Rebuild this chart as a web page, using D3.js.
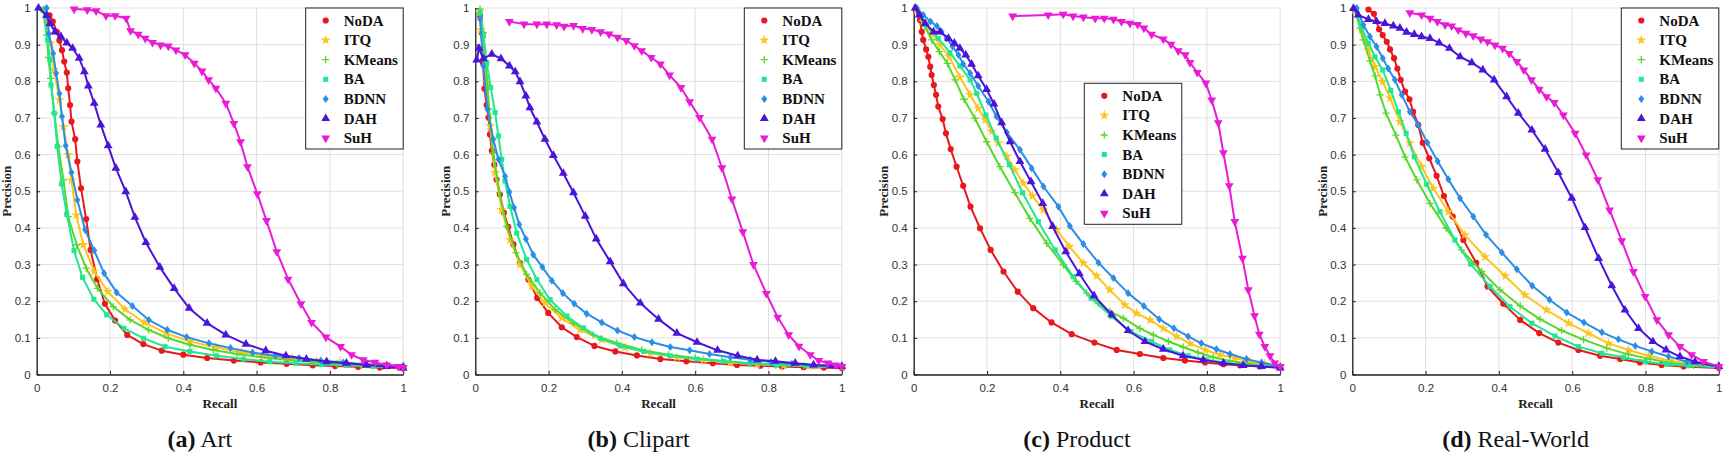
<!DOCTYPE html>
<html>
<head>
<meta charset="utf-8">
<script src="https://cdn.jsdelivr.net/npm/d3@7"></script>
<style>
  html, body { margin: 0; padding: 0; background: #fff; }
  svg { display: block; }
</style>
</head>
<body>
<svg id="chart" width="1725" height="452"></svg>
<script>
// ---------- tick labels ----------
const xTicks = [0, 0.2, 0.4, 0.6, 0.8, 1];
const xTickLabels = ["0", "0.2", "0.4", "0.6", "0.8", "1"];
const yTicks = [0, 0.1, 0.2, 0.3, 0.4, 0.5, 0.6, 0.7, 0.8, 0.9, 1];
const yTickLabels = ["0", "0.1", "0.2", "0.3", "0.4", "0.5", "0.6", "0.7", "0.8", "0.9", "1"];

const methods = ["NoDA", "ITQ", "KMeans", "BA", "BDNN", "DAH", "SuH"];
const panels = ["Art", "Clipart", "Product", "Real-World"];
const panelLetters = ["(a)", "(b)", "(c)", "(d)"];

// ---------- data: [recall, precision] ----------
// (a) Art
const artNoDA = [[0.02,0.995],[0.035,0.98],[0.044,0.963],[0.055,0.935],[0.062,0.911],[0.069,0.885],[0.075,0.854],[0.082,0.824],[0.086,0.781],[0.091,0.735],[0.095,0.69],[0.105,0.642],[0.111,0.581],[0.121,0.508],[0.135,0.424],[0.147,0.34],[0.165,0.26],[0.186,0.193],[0.214,0.147],[0.247,0.108],[0.291,0.083],[0.341,0.065],[0.4,0.054],[0.465,0.045],[0.538,0.038],[0.611,0.033],[0.682,0.029],[0.753,0.025],[0.814,0.023],[0.877,0.021],[0.936,0.019],[1,0.017]];
const artITQ = [[0.018,0.995],[0.029,0.958],[0.038,0.904],[0.047,0.831],[0.062,0.749],[0.073,0.676],[0.086,0.6],[0.095,0.53],[0.108,0.435],[0.127,0.354],[0.157,0.281],[0.194,0.226],[0.241,0.178],[0.293,0.142],[0.353,0.113],[0.418,0.09],[0.489,0.074],[0.559,0.06],[0.627,0.051],[0.698,0.044],[0.764,0.037],[0.827,0.033],[0.891,0.028],[0.955,0.025],[1,0.022]];
const artKMeans = [[0.018,0.995],[0.027,0.926],[0.032,0.865],[0.038,0.808],[0.048,0.713],[0.059,0.622],[0.073,0.531],[0.086,0.431],[0.109,0.354],[0.135,0.29],[0.166,0.235],[0.209,0.185],[0.255,0.149],[0.305,0.122],[0.359,0.099],[0.418,0.081],[0.482,0.067],[0.547,0.056],[0.614,0.047],[0.682,0.04],[0.75,0.035],[0.818,0.029],[0.886,0.025],[0.945,0.022],[1,0.019]];
const artBA = [[0.018,0.995],[0.03,0.913],[0.036,0.858],[0.039,0.79],[0.048,0.713],[0.056,0.622],[0.068,0.52],[0.082,0.438],[0.102,0.338],[0.125,0.265],[0.156,0.205],[0.191,0.163],[0.238,0.126],[0.291,0.099],[0.35,0.076],[0.418,0.063],[0.491,0.051],[0.564,0.042],[0.636,0.035],[0.707,0.031],[0.777,0.027],[0.845,0.025],[0.918,0.022],[1,0.019]];
const artBDNN = [[0.027,1.0],[0.033,0.93],[0.045,0.876],[0.053,0.822],[0.062,0.767],[0.069,0.704],[0.079,0.624],[0.095,0.551],[0.111,0.476],[0.132,0.395],[0.157,0.338],[0.184,0.276],[0.218,0.224],[0.261,0.187],[0.306,0.149],[0.356,0.122],[0.409,0.102],[0.47,0.085],[0.529,0.072],[0.589,0.06],[0.651,0.051],[0.716,0.045],[0.775,0.038],[0.836,0.033],[0.895,0.028],[0.955,0.026],[1,0.024]];
const artDAH = [[0.005,1.0],[0.027,0.98],[0.036,0.958],[0.05,0.935],[0.066,0.922],[0.082,0.905],[0.098,0.89],[0.116,0.863],[0.13,0.826],[0.141,0.787],[0.157,0.74],[0.175,0.681],[0.195,0.624],[0.216,0.563],[0.243,0.499],[0.268,0.429],[0.298,0.36],[0.336,0.293],[0.375,0.235],[0.416,0.181],[0.465,0.14],[0.516,0.108],[0.571,0.083],[0.625,0.065],[0.68,0.051],[0.736,0.042],[0.791,0.035],[0.845,0.031],[0.9,0.026],[0.955,0.022],[1,0.018]];
const artSuH = [[0.102,0.997],[0.138,0.995],[0.162,0.992],[0.189,0.979],[0.214,0.979],[0.244,0.972],[0.256,0.938],[0.277,0.928],[0.296,0.917],[0.316,0.906],[0.338,0.899],[0.359,0.896],[0.38,0.885],[0.405,0.872],[0.43,0.849],[0.451,0.828],[0.469,0.804],[0.489,0.781],[0.516,0.74],[0.538,0.685],[0.556,0.635],[0.575,0.567],[0.602,0.493],[0.627,0.42],[0.655,0.335],[0.686,0.26],[0.721,0.193],[0.75,0.142],[0.789,0.102],[0.829,0.076],[0.859,0.054],[0.891,0.04],[0.923,0.033],[0.955,0.026],[0.986,0.022],[1,0.019]];

// (b) Clipart
const clipNoDA = [[0.013,0.979],[0.017,0.933],[0.021,0.85],[0.025,0.78],[0.031,0.735],[0.036,0.701],[0.04,0.655],[0.045,0.61],[0.052,0.572],[0.058,0.532],[0.067,0.491],[0.078,0.441],[0.09,0.403],[0.104,0.355],[0.122,0.304],[0.145,0.259],[0.169,0.209],[0.199,0.168],[0.236,0.129],[0.277,0.102],[0.325,0.078],[0.382,0.063],[0.441,0.052],[0.505,0.042],[0.576,0.036],[0.648,0.031],[0.714,0.026],[0.778,0.024],[0.837,0.022],[0.896,0.02],[0.951,0.019],[1,0.017]];
const clipITQ = [[0.011,0.988],[0.016,0.94],[0.022,0.879],[0.031,0.797],[0.04,0.678],[0.054,0.551],[0.072,0.45],[0.095,0.368],[0.122,0.3],[0.154,0.241],[0.19,0.195],[0.236,0.154],[0.286,0.122],[0.345,0.095],[0.409,0.074],[0.477,0.058],[0.55,0.047],[0.623,0.04],[0.696,0.033],[0.769,0.028],[0.842,0.025],[0.923,0.022],[1,0.02]];
const clipKMeans = [[0.013,0.997],[0.022,0.933],[0.029,0.842],[0.038,0.724],[0.049,0.605],[0.066,0.496],[0.086,0.405],[0.111,0.332],[0.14,0.273],[0.177,0.222],[0.218,0.177],[0.268,0.14],[0.322,0.108],[0.386,0.086],[0.454,0.067],[0.527,0.054],[0.6,0.045],[0.673,0.037],[0.746,0.031],[0.819,0.026],[0.896,0.024],[1,0.02]];
const clipBA = [[0.013,0.988],[0.022,0.924],[0.031,0.851],[0.042,0.783],[0.054,0.715],[0.063,0.651],[0.072,0.587],[0.081,0.528],[0.095,0.459],[0.113,0.386],[0.14,0.314],[0.168,0.259],[0.204,0.204],[0.25,0.159],[0.295,0.127],[0.341,0.099],[0.395,0.078],[0.459,0.063],[0.532,0.051],[0.605,0.042],[0.678,0.036],[0.75,0.031],[0.823,0.026],[0.905,0.024],[1,0.02]];
const clipBDNN = [[0.013,0.97],[0.022,0.842],[0.033,0.724],[0.049,0.642],[0.063,0.587],[0.081,0.541],[0.093,0.498],[0.106,0.455],[0.12,0.409],[0.138,0.37],[0.158,0.327],[0.183,0.293],[0.209,0.256],[0.239,0.222],[0.27,0.193],[0.304,0.166],[0.345,0.142],[0.388,0.12],[0.434,0.102],[0.482,0.088],[0.532,0.075],[0.585,0.066],[0.639,0.056],[0.696,0.047],[0.75,0.04],[0.807,0.034],[0.864,0.029],[0.923,0.025],[1,0.022]];
const clipDAH = [[0.004,0.858],[0.01,0.89],[0.022,0.862],[0.045,0.874],[0.07,0.862],[0.093,0.842],[0.109,0.826],[0.122,0.799],[0.138,0.76],[0.149,0.728],[0.168,0.689],[0.19,0.642],[0.213,0.598],[0.24,0.549],[0.268,0.496],[0.3,0.432],[0.33,0.37],[0.368,0.308],[0.404,0.248],[0.45,0.195],[0.5,0.151],[0.55,0.113],[0.605,0.088],[0.661,0.066],[0.716,0.051],[0.769,0.04],[0.819,0.036],[0.873,0.031],[0.923,0.026],[0.969,0.024],[1,0.022]];
const clipSuH = [[0.093,0.963],[0.133,0.956],[0.168,0.956],[0.195,0.956],[0.222,0.954],[0.242,0.95],[0.268,0.952],[0.293,0.944],[0.318,0.941],[0.342,0.935],[0.365,0.929],[0.388,0.92],[0.412,0.911],[0.434,0.897],[0.454,0.883],[0.48,0.865],[0.505,0.847],[0.53,0.817],[0.561,0.783],[0.585,0.744],[0.612,0.701],[0.646,0.642],[0.673,0.564],[0.7,0.479],[0.73,0.389],[0.759,0.3],[0.794,0.221],[0.825,0.156],[0.855,0.108],[0.883,0.077],[0.914,0.054],[0.937,0.038],[0.962,0.031],[0.983,0.026],[1,0.022]];

// (c) Product
const prodNoDA = [[0.005,0.995],[0.017,0.967],[0.022,0.935],[0.026,0.913],[0.034,0.887],[0.04,0.867],[0.045,0.84],[0.049,0.817],[0.055,0.79],[0.061,0.763],[0.067,0.731],[0.079,0.697],[0.088,0.658],[0.101,0.615],[0.117,0.567],[0.135,0.515],[0.155,0.458],[0.181,0.399],[0.21,0.34],[0.245,0.281],[0.284,0.226],[0.326,0.181],[0.376,0.142],[0.431,0.11],[0.493,0.087],[0.554,0.067],[0.617,0.056],[0.681,0.045],[0.74,0.038],[0.795,0.033],[0.845,0.028],[0.89,0.025],[0.945,0.022],[1,0.019]];
const prodITQ = [[0.008,0.995],[0.026,0.963],[0.049,0.931],[0.072,0.899],[0.097,0.867],[0.126,0.811],[0.154,0.763],[0.176,0.726],[0.195,0.695],[0.213,0.663],[0.231,0.631],[0.254,0.595],[0.276,0.558],[0.299,0.522],[0.324,0.487],[0.354,0.449],[0.39,0.395],[0.425,0.349],[0.463,0.304],[0.499,0.269],[0.535,0.231],[0.576,0.19],[0.608,0.167],[0.645,0.149],[0.681,0.126],[0.717,0.104],[0.754,0.085],[0.795,0.067],[0.835,0.054],[0.876,0.045],[0.917,0.035],[0.958,0.029],[1,0.022]];
const prodKMeans = [[0.008,0.995],[0.031,0.949],[0.049,0.913],[0.07,0.881],[0.092,0.849],[0.113,0.804],[0.137,0.751],[0.167,0.699],[0.199,0.635],[0.235,0.567],[0.276,0.496],[0.317,0.426],[0.363,0.358],[0.408,0.299],[0.443,0.254],[0.472,0.222],[0.504,0.195],[0.535,0.172],[0.572,0.154],[0.617,0.126],[0.654,0.108],[0.695,0.09],[0.735,0.075],[0.776,0.06],[0.817,0.047],[0.863,0.037],[0.908,0.031],[0.954,0.025],[1,0.022]];
const prodBA = [[0.008,0.999],[0.035,0.954],[0.067,0.917],[0.099,0.878],[0.126,0.842],[0.154,0.804],[0.172,0.767],[0.197,0.708],[0.225,0.645],[0.261,0.572],[0.297,0.496],[0.34,0.417],[0.386,0.34],[0.435,0.267],[0.484,0.208],[0.54,0.158],[0.593,0.117],[0.649,0.09],[0.699,0.067],[0.749,0.051],[0.799,0.04],[0.849,0.033],[0.899,0.026],[0.949,0.024],[1,0.02]];
const prodBDNN = [[0.008,1.0],[0.026,0.981],[0.046,0.963],[0.063,0.951],[0.076,0.935],[0.09,0.917],[0.106,0.895],[0.122,0.872],[0.135,0.847],[0.154,0.822],[0.176,0.787],[0.204,0.745],[0.226,0.704],[0.254,0.66],[0.29,0.613],[0.322,0.563],[0.354,0.513],[0.395,0.458],[0.426,0.405],[0.463,0.356],[0.504,0.305],[0.545,0.263],[0.585,0.222],[0.628,0.187],[0.67,0.151],[0.71,0.126],[0.749,0.104],[0.785,0.085],[0.826,0.069],[0.863,0.056],[0.908,0.042],[0.949,0.033],[1,0.022]];
const prodDAH = [[0.004,1.0],[0.015,0.981],[0.031,0.958],[0.054,0.935],[0.072,0.935],[0.095,0.917],[0.111,0.904],[0.126,0.89],[0.142,0.872],[0.158,0.847],[0.176,0.815],[0.199,0.778],[0.219,0.738],[0.24,0.687],[0.263,0.635],[0.29,0.581],[0.32,0.526],[0.352,0.467],[0.379,0.404],[0.415,0.335],[0.452,0.275],[0.492,0.215],[0.54,0.163],[0.585,0.12],[0.631,0.09],[0.681,0.069],[0.735,0.051],[0.79,0.04],[0.845,0.031],[0.899,0.025],[0.949,0.022],[1,0.018]];
const prodSuH = [[0.27,0.978],[0.367,0.981],[0.408,0.983],[0.435,0.978],[0.463,0.975],[0.495,0.972],[0.52,0.972],[0.545,0.969],[0.567,0.963],[0.59,0.958],[0.611,0.955],[0.628,0.945],[0.649,0.928],[0.681,0.915],[0.702,0.901],[0.722,0.883],[0.741,0.872],[0.754,0.851],[0.774,0.824],[0.797,0.795],[0.813,0.749],[0.831,0.687],[0.845,0.605],[0.861,0.515],[0.876,0.417],[0.897,0.317],[0.913,0.231],[0.93,0.16],[0.943,0.11],[0.958,0.076],[0.972,0.051],[0.985,0.031],[1,0.022]];

// (d) Real-World
const realNoDA = [[0.044,0.996],[0.059,0.984],[0.073,0.942],[0.083,0.926],[0.094,0.908],[0.103,0.887],[0.114,0.863],[0.123,0.835],[0.132,0.804],[0.144,0.772],[0.156,0.751],[0.166,0.717],[0.18,0.681],[0.192,0.632],[0.21,0.59],[0.23,0.542],[0.25,0.487],[0.274,0.431],[0.303,0.367],[0.338,0.305],[0.369,0.24],[0.412,0.193],[0.458,0.149],[0.51,0.113],[0.562,0.087],[0.617,0.067],[0.676,0.051],[0.731,0.042],[0.785,0.033],[0.844,0.026],[0.904,0.022],[1,0.018]];
const realITQ = [[0.007,0.995],[0.025,0.94],[0.044,0.885],[0.062,0.84],[0.083,0.799],[0.103,0.754],[0.13,0.69],[0.157,0.631],[0.189,0.567],[0.221,0.508],[0.262,0.444],[0.307,0.381],[0.362,0.321],[0.417,0.269],[0.471,0.217],[0.53,0.176],[0.59,0.14],[0.644,0.113],[0.699,0.085],[0.753,0.067],[0.808,0.051],[0.863,0.038],[0.922,0.029],[1,0.022]];
const realKMeans = [[0.007,0.995],[0.021,0.945],[0.03,0.913],[0.048,0.856],[0.062,0.815],[0.076,0.763],[0.092,0.713],[0.119,0.653],[0.144,0.594],[0.176,0.531],[0.212,0.467],[0.256,0.399],[0.298,0.34],[0.353,0.281],[0.403,0.231],[0.458,0.187],[0.512,0.151],[0.571,0.12],[0.631,0.095],[0.694,0.072],[0.753,0.055],[0.813,0.042],[0.872,0.031],[0.931,0.025],[1,0.022]];
const realBA = [[0.007,0.999],[0.025,0.949],[0.044,0.904],[0.062,0.867],[0.083,0.831],[0.105,0.775],[0.126,0.717],[0.147,0.658],[0.169,0.594],[0.203,0.519],[0.239,0.444],[0.28,0.367],[0.323,0.301],[0.376,0.24],[0.43,0.185],[0.49,0.14],[0.553,0.105],[0.617,0.076],[0.681,0.058],[0.74,0.047],[0.799,0.035],[0.858,0.028],[0.917,0.024],[1,0.02]];
const realBDNN = [[0.012,1.0],[0.03,0.954],[0.048,0.922],[0.066,0.895],[0.083,0.863],[0.098,0.835],[0.116,0.804],[0.135,0.763],[0.157,0.717],[0.18,0.681],[0.205,0.632],[0.233,0.582],[0.262,0.533],[0.294,0.481],[0.33,0.431],[0.365,0.381],[0.408,0.333],[0.449,0.287],[0.491,0.242],[0.538,0.204],[0.585,0.169],[0.632,0.142],[0.681,0.115],[0.726,0.096],[0.772,0.078],[0.817,0.063],[0.863,0.049],[0.913,0.035],[1,0.022]];
const realDAH = [[0.003,0.999],[0.016,0.981],[0.044,0.969],[0.066,0.963],[0.089,0.958],[0.112,0.951],[0.13,0.945],[0.148,0.934],[0.169,0.928],[0.189,0.922],[0.212,0.917],[0.237,0.905],[0.265,0.89],[0.294,0.867],[0.326,0.851],[0.356,0.831],[0.387,0.804],[0.421,0.758],[0.453,0.713],[0.49,0.667],[0.526,0.615],[0.562,0.551],[0.599,0.481],[0.635,0.401],[0.672,0.317],[0.708,0.242],[0.744,0.176],[0.781,0.126],[0.82,0.09],[0.856,0.067],[0.894,0.049],[0.935,0.035],[1,0.022]];
const realSuH = [[0.157,0.987],[0.189,0.981],[0.212,0.972],[0.232,0.963],[0.253,0.954],[0.271,0.951],[0.289,0.94],[0.31,0.931],[0.33,0.924],[0.351,0.915],[0.369,0.908],[0.389,0.899],[0.41,0.89],[0.428,0.876],[0.449,0.854],[0.468,0.831],[0.489,0.804],[0.51,0.778],[0.53,0.758],[0.551,0.742],[0.576,0.708],[0.608,0.658],[0.638,0.599],[0.67,0.531],[0.702,0.449],[0.735,0.365],[0.767,0.281],[0.799,0.213],[0.831,0.149],[0.863,0.108],[0.894,0.076],[0.926,0.054],[0.958,0.035],[1,0.022]];

const panelData = [
  [artNoDA, artITQ, artKMeans, artBA, artBDNN, artDAH, artSuH],
  [clipNoDA, clipITQ, clipKMeans, clipBA, clipBDNN, clipDAH, clipSuH],
  [prodNoDA, prodITQ, prodKMeans, prodBA, prodBDNN, prodDAH, prodSuH],
  [realNoDA, realITQ, realKMeans, realBA, realBDNN, realDAH, realSuH]
];

// ---------- styles ----------
const colors = ["#e8181d", "#fcc51c", "#5cd62a", "#1fe88f", "#2b8de6", "#4a15d9", "#e91bd4"];
const shapes = ["circle", "star", "plus", "square", "diamond", "tri-up", "tri-down"];

const svg = d3.select("#chart");
const plotW = 366.5, plotTop = 8, plotBottom = 374.5;
const lefts = [36.7, 475.3, 913.7, 1352.3];
const legendPos = [
  {x: "right", y: 8},
  {x: "right", y: 8},
  {x: 1084.3 - 913.7, y: 83.3},
  {x: "right", y: 8}
];

function marker(g, shape, color, x, y) {
  if (shape === "plus") {
    g.append("path")
      .attr("d", `M${x-3.6},${y}H${x+3.6}M${x},${y-3.6}V${y+3.6}`)
      .attr("stroke", color).attr("stroke-width", 1.3).attr("fill", "none");
    return;
  }
  if (shape === "diamond") {
    g.append("path")
      .attr("d", `M${x},${y-4}L${x+3},${y}L${x},${y+4}L${x-3},${y}Z`)
      .attr("fill", color);
    return;
  }
  let sym;
  switch (shape) {
    case "circle": sym = d3.symbol(d3.symbolCircle, 30); break;
    case "star": sym = d3.symbol(d3.symbolStar, 32); break;
    case "square": sym = d3.symbol(d3.symbolSquare, 26); break;
    default: sym = d3.symbol(d3.symbolTriangle, 34); break;
  }
  const p = g.append("path").attr("d", sym()).attr("fill", color);
  if (shape === "tri-down") p.attr("transform", `translate(${x},${y}) rotate(180)`);
  else p.attr("transform", `translate(${x},${y})`);
}

panels.forEach((name, pi) => {
  const x0 = lefts[pi];
  const xs = d3.scaleLinear().domain([0, 1]).range([x0, x0 + plotW]);
  const ys = d3.scaleLinear().domain([0, 1]).range([plotBottom, plotTop]);
  const g = svg.append("g");

  // grid
  g.append("g").selectAll("line").data(xTicks).join("line")
    .attr("x1", d => xs(d)).attr("x2", d => xs(d))
    .attr("y1", plotTop).attr("y2", plotBottom)
    .attr("stroke", "#dfdfdf").attr("stroke-width", 1);
  g.append("g").selectAll("line").data(yTicks).join("line")
    .attr("x1", xs(0)).attr("x2", xs(1))
    .attr("y1", d => ys(d)).attr("y2", d => ys(d))
    .attr("stroke", "#dfdfdf").attr("stroke-width", 1);

  // axes
  const xAxis = d3.axisBottom(xs).tickValues(xTicks).tickFormat((d, i) => xTickLabels[i])
    .tickSizeInner(-3.5).tickSizeOuter(0).tickPadding(9);
  const yAxis = d3.axisLeft(ys).tickValues(yTicks).tickFormat((d, i) => yTickLabels[i])
    .tickSizeInner(-3.5).tickSizeOuter(0).tickPadding(6);
  const gx = g.append("g").attr("transform", `translate(0,${plotBottom})`).call(xAxis);
  const gy = g.append("g").attr("transform", `translate(${x0},0)`).call(yAxis);
  [gx, gy].forEach(a => {
    a.select(".domain").attr("stroke", "#222").attr("stroke-width", 1.3);
    a.selectAll(".tick line").attr("stroke", "#222").attr("stroke-width", 1);
    a.selectAll("text").attr("font-family", "'Liberation Sans', Arial, sans-serif")
      .attr("font-size", 11.5).attr("fill", "#333");
  });

  // curves
  const line = d3.line().x(d => xs(d[0])).y(d => ys(d[1]));
  panelData[pi].forEach((series, si) => {
    const sg = g.append("g");
    sg.append("path").datum(series).attr("d", line)
      .attr("fill", "none").attr("stroke", colors[si])
      .attr("stroke-width", 2).attr("stroke-linejoin", "round");
    series.forEach(d => marker(sg, shapes[si], colors[si], xs(d[0]), ys(d[1])));
  });

  // axis labels
  g.append("text").attr("x", x0 + plotW / 2).attr("y", 408).attr("text-anchor", "middle")
    .attr("font-family", "'Liberation Serif', 'Times New Roman', serif")
    .attr("font-weight", "bold").attr("font-size", 13).attr("fill", "#222").text("Recall");
  g.append("text").attr("transform", `translate(${x0 - 25.5},${(plotTop + plotBottom) / 2}) rotate(-90)`)
    .attr("text-anchor", "middle")
    .attr("font-family", "'Liberation Serif', 'Times New Roman', serif")
    .attr("font-weight", "bold").attr("font-size", 13).attr("fill", "#222").text("Precision");

  // caption
  const cap = g.append("text").attr("x", x0 + plotW / 2 - 20).attr("y", 447).attr("text-anchor", "middle")
    .attr("font-family", "'Liberation Serif', 'Times New Roman', serif")
    .attr("font-size", 24).attr("fill", "#111");
  cap.append("tspan").attr("font-weight", "bold").text(panelLetters[pi]);
  cap.append("tspan").text(" " + name);

  // legend
  const lw = 97.5, lh = 141;
  const lp = legendPos[pi];
  const lx = lp.x === "right" ? x0 + plotW - lw : x0 + lp.x;
  const ly = lp.y;
  const lg = g.append("g");
  lg.append("rect").attr("x", lx).attr("y", ly).attr("width", lw).attr("height", lh)
    .attr("fill", "#fff").attr("stroke", "#222").attr("stroke-width", 1);
  methods.forEach((m, i) => {
    const cy = ly + 12.5 + i * 19.6;
    marker(lg, shapes[i], colors[i], lx + 20, cy);
    lg.append("text").attr("x", lx + 38).attr("y", cy + 5)
      .attr("font-family", "'Liberation Serif', 'Times New Roman', serif")
      .attr("font-weight", "bold").attr("font-size", 15).attr("fill", "#111").text(m);
  });
});
</script>
</body>
</html>
